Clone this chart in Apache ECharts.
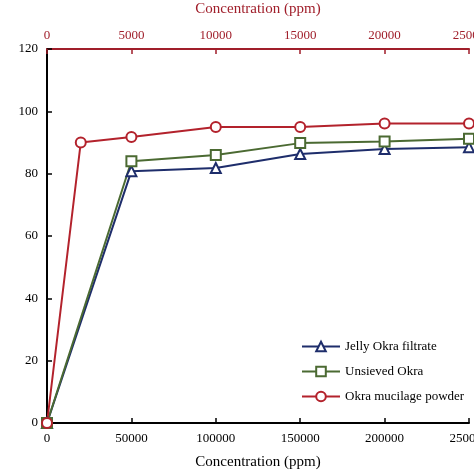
<!DOCTYPE html>
<html><head><meta charset="utf-8">
<script src="https://cdn.jsdelivr.net/npm/echarts@6/dist/echarts.min.js"></script>
<style>html,body{margin:0;padding:0;background:#fff}#c{width:474px;height:474px}</style>
</head><body><div id="c"></div>
<script>
const bottomX = [0, 50000, 100000, 150000, 200000, 250000];
const jelly = [0, 80.8, 81.8, 86.3, 87.9, 88.5];
const unsieved = [0, 84.0, 86.0, 89.8, 90.3, 91.2];
const topX = [0, 2000, 5000, 10000, 15000, 20000, 25000];
const mucilage = [0, 90.0, 91.8, 95.0, 95.0, 96.1, 96.1];
const names = ['Jelly Okra filtrate', 'Unsieved Okra', 'Okra mucilage powder'];
const colors = ['#1e2d6b', '#4b6a32', '#b3222c'];
const font = 'Liberation Serif';

const chart = echarts.init(document.getElementById('c'));
const zip = (xs, ys) => xs.map((x, i) => [x, ys[i]]);
const plain = v => String(v);
const mk = (name, data, color, symbol, xi) => ({
  name, type: 'line', data: zip(...data), xAxisIndex: xi,
  symbol, symbolSize: 10, showAllSymbol: true,
  lineStyle: { color, width: 2 },
  itemStyle: { color, borderColor: color, borderWidth: 2 },
  emphasis: { disabled: true }, z: 3
});
chart.setOption({
  animation: false,
  textStyle: { fontFamily: font },
  grid: { left: 47, right: 5, top: 49, bottom: 51, containLabel: false, outerBoundsMode: 'none' },
  legend: {
    orient: 'vertical', left: 296, top: 335, itemGap: 12,
    itemWidth: 38, itemHeight: 12,
    textStyle: { fontFamily: font, fontSize: 13, color: '#000' },
    data: names
  },
  xAxis: [{
    type: 'value', position: 'bottom', min: 0, max: 250000, interval: 50000,
    name: 'Concentration (ppm)', nameLocation: 'middle', nameGap: 32,
    nameTextStyle: { fontFamily: font, fontSize: 15, color: '#000' },
    axisLine: { lineStyle: { color: '#000', width: 2 } },
    axisTick: { inside: true, length: 5, lineStyle: { color: '#000', width: 1.5 } },
    axisLabel: { fontFamily: font, fontSize: 13, color: '#000', margin: 9, formatter: plain },
    splitLine: { show: false }
  }, {
    type: 'value', position: 'top', min: 0, max: 25000, interval: 5000,
    name: 'Concentration (ppm)', nameLocation: 'middle', nameGap: 32,
    nameTextStyle: { fontFamily: font, fontSize: 15, color: '#a01e2a' },
    axisLine: { lineStyle: { color: '#a01e2a', width: 2 } },
    axisTick: { inside: true, length: 5, lineStyle: { color: '#a01e2a', width: 1.5 } },
    axisLabel: { fontFamily: font, fontSize: 13, color: '#a01e2a', margin: 7, formatter: plain },
    splitLine: { show: false }
  }],
  yAxis: {
    type: 'value', min: 0, max: 120, interval: 20,
    axisLine: { show: true, lineStyle: { color: '#000', width: 2 } },
    axisTick: { show: true, inside: true, length: 5, lineStyle: { color: '#000', width: 1.5 } },
    axisLabel: { fontFamily: font, fontSize: 13, color: '#000', margin: 9 },
    splitLine: { show: false }
  },
  series: [
    mk(names[0], [bottomX, jelly], colors[0], 'emptyTriangle', 0),
    mk(names[1], [bottomX, unsieved], colors[1], 'emptyRect', 0),
    mk(names[2], [topX, mucilage], colors[2], 'emptyCircle', 1)
  ]
});
</script></body></html>
